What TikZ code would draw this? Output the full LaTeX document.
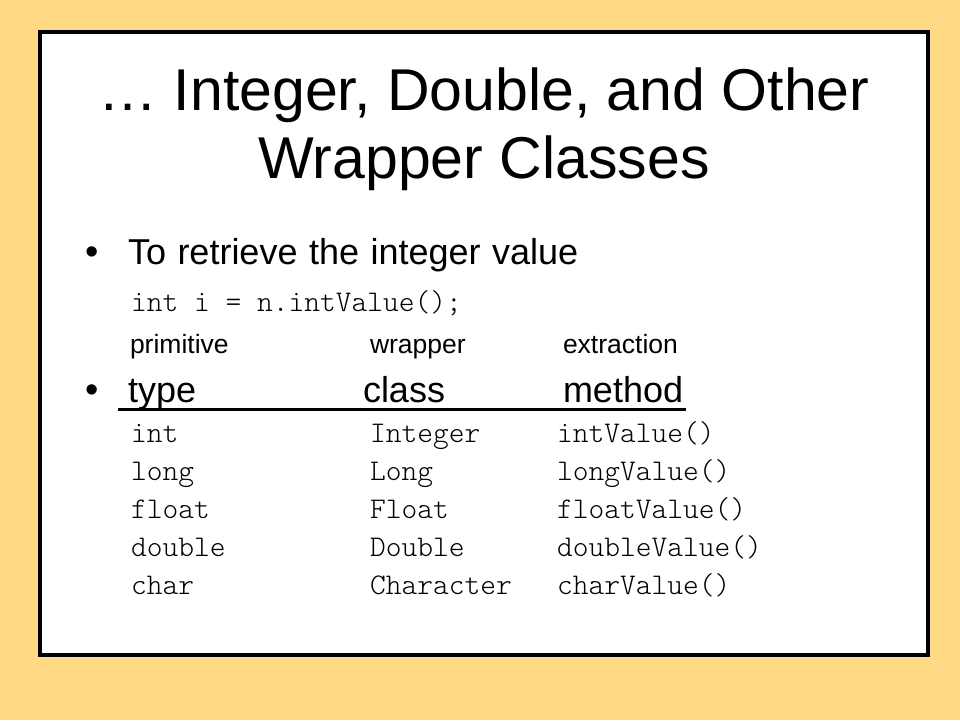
\documentclass[tikz,border=0pt]{standalone}
\usepackage{fontspec}
\setmainfont{Liberation Sans}
\setmonofont{Latin Modern Mono Light}
\usetikzlibrary{positioning}
\definecolor{slidebg}{RGB}{255,217,132}
\tikzset{
  every node/.style={inner sep=0pt, outer sep=0pt}
}

\begin{document}
\begin{tikzpicture}[x=1pt,y=-1pt]
  \tikzset{
    ttl/.style={anchor=base, font=\fontsize{59}{68}\selectfont},
    bul/.style={anchor=base west, font=\fontsize{36}{40}\selectfont},
    dot/.style={anchor=base, font=\fontsize{38}{40}\selectfont},
    small/.style={anchor=base west, font=\fontsize{26.5}{30}\selectfont},
    code/.style={anchor=base west, font=\fontsize{30}{34}\ttfamily},
    uline/.style={line width=3pt}
  }
  \useasboundingbox (0,0) rectangle (960,720);
  \fill[slidebg] (0,0) rectangle (960,720);
  \draw[line width=4pt, fill=white] (40,32) rectangle (928,655);

  \node[ttl] (t1) at (484,110) {\dots{} Integer, Double, and Other};
  \node[ttl] (t2) at (484,178) {Wrapper Classes};

  \node[dot] (d1) at (92,264) {•};
  \node[bul] (b1) at (128,264) {\spaceskip=11.5pt To retrieve the integer value};
  \node[code] (c0) at (131,311) {int i = n.intValue();};

  \node[small] (p1) at (130,353) {primitive};
  \node[small] (p2) at (370,353) {wrapper};
  \node[small] (p3) at (563,353) {extraction};

  \node[dot] (d2) at (92,402) {•};
  \node[bul] (h1) at (128,402) {type};
  \node[bul] (h2) at (363,402) {class};
  \node[bul] (h3) at (563,402) {method};
  \coordinate (u1) at (118,409);
  \coordinate (u2) at (686,409);
  \draw[uline] (u1) -- (u2);

  \node[code] (r1a) at (131,442) {int};
  \node[code] (r1b) at (370,442) {Integer};
  \node[code] (r1c) at (557,442) {intValue()};
  \node[code] (r2a) at (131,480) {long};
  \node[code] (r2b) at (370,480) {Long};
  \node[code] (r2c) at (557,480) {longValue()};
  \node[code] (r3a) at (131,518) {float};
  \node[code] (r3b) at (370,518) {Float};
  \node[code] (r3c) at (557,518) {floatValue()};
  \node[code] (r4a) at (131,556) {double};
  \node[code] (r4b) at (370,556) {Double};
  \node[code] (r4c) at (557,556) {doubleValue()};
  \node[code] (r5a) at (131,594) {char};
  \node[code] (r5b) at (370,594) {Character};
  \node[code] (r5c) at (557,594) {charValue()};
\end{tikzpicture}
\end{document}
